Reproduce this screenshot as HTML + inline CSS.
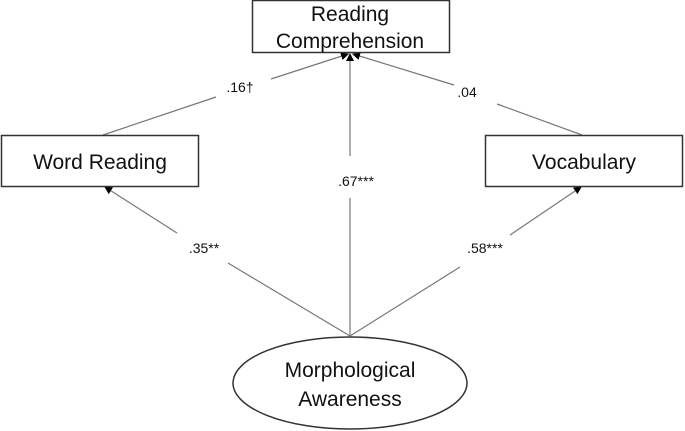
<!DOCTYPE html>
<html><head><style>
html,body{margin:0;padding:0;background:#fff;}
svg{display:block;}
text{font-family:"Liberation Sans",sans-serif;fill:#111;}
</style></head><body>
<svg width="685" height="431" viewBox="0 0 685 431">
<defs>
<marker id="a" markerWidth="8" markerHeight="8" refX="7" refY="4" orient="auto" markerUnits="userSpaceOnUse">
<path d="M0,0 L8,4 L0,8 z" fill="#000"/>
</marker>
</defs>
<g stroke="#777" stroke-width="1.2" fill="none">
<line x1="103" y1="135" x2="216" y2="97"/>
<line x1="271" y1="79" x2="348" y2="54" marker-end="url(#a)"/>
<line x1="582" y1="135" x2="497" y2="104"/>
<line x1="454" y1="85" x2="353" y2="54" marker-end="url(#a)"/>
<line x1="350" y1="336" x2="350" y2="198"/>
<line x1="350" y1="156" x2="350" y2="54" marker-end="url(#a)"/>
<line x1="350" y1="336" x2="228" y2="263"/>
<line x1="177" y1="233" x2="105" y2="187" marker-end="url(#a)"/>
<line x1="350" y1="336" x2="460" y2="267"/>
<line x1="510" y1="235" x2="581" y2="187" marker-end="url(#a)"/>
</g>
<g stroke="#333" stroke-width="1.5" fill="#fff">
<rect x="252.5" y="0.5" width="197" height="52"/>
<rect x="1.5" y="135.5" width="197" height="51"/>
<rect x="485.5" y="135.5" width="197" height="51"/>
<ellipse cx="350" cy="383" rx="117" ry="46"/>
</g>
<g font-size="21" text-anchor="middle">
<text x="350" y="21">Reading</text>
<text x="350" y="48">Comprehension</text>
<text x="100" y="169">Word Reading</text>
<text x="584" y="169">Vocabulary</text>
<text x="350" y="377">Morphological</text>
<text x="350" y="406">Awareness</text>
</g>
<g font-size="14" text-anchor="middle">
<text x="240" y="92">.16†</text>
<text x="467" y="97">.04</text>
<text x="356" y="186">.67***</text>
<text x="204" y="253">.35**</text>
<text x="485" y="253">.58***</text>
</g>
</svg>
</body></html>
